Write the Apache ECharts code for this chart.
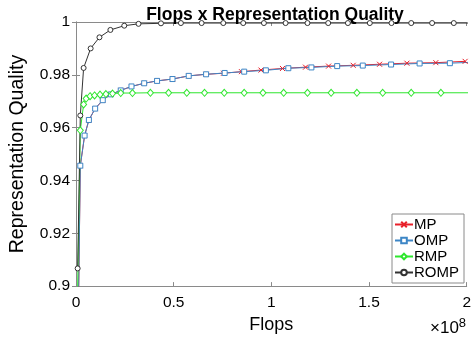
<!DOCTYPE html>
<html>
<head>
<meta charset="utf-8">
<script src="https://cdn.jsdelivr.net/npm/echarts@6/dist/echarts.min.js"></script>
<style>html,body{margin:0;padding:0;background:#fff;}#c{width:474px;height:339px;}</style>
</head>
<body>
<div id="c"></div>
<script>
// x values in units of 1e8 flops
const mpX = [0.005, 0.022, 0.044, 0.066, 0.098, 0.137, 0.179, 0.229, 0.284, 0.349, 0.415, 0.494, 0.577, 0.666, 0.755, 0.847, 0.947, 1.057, 1.175, 1.293, 1.419, 1.554, 1.694, 1.842, 1.992];
const mpY = [0.85, 0.9456, 0.957, 0.9629, 0.9672, 0.9704, 0.9726, 0.9741, 0.9756, 0.9768, 0.9777, 0.9784, 0.9796, 0.9802, 0.9806, 0.9812, 0.9818, 0.9824, 0.9829, 0.9833, 0.9836, 0.984, 0.9844, 0.9846, 0.9851];
const ompX = [0.005, 0.022, 0.044, 0.066, 0.098, 0.137, 0.179, 0.229, 0.284, 0.349, 0.415, 0.494, 0.577, 0.666, 0.761, 0.861, 0.972, 1.087, 1.205, 1.337, 1.468, 1.613, 1.759, 1.914, 2.07];
const ompY = [0.85, 0.9456, 0.957, 0.9629, 0.9672, 0.9704, 0.9726, 0.9741, 0.9756, 0.9768, 0.9777, 0.9784, 0.9796, 0.9802, 0.9807, 0.9812, 0.9817, 0.9825, 0.9828, 0.9833, 0.9835, 0.9839, 0.9843, 0.9844, 0.9849];
const rmpX = [0.004, 0.022, 0.039, 0.052, 0.072, 0.095, 0.123, 0.153, 0.187, 0.229, 0.289, 0.381, 0.474, 0.567, 0.658, 0.759, 0.861, 0.957, 1.063, 1.185, 1.306, 1.438, 1.570, 1.716, 1.868, 2.03];
const rmpY = [0.88, 0.959, 0.9688, 0.971, 0.9719, 0.9722, 0.9725, 0.9727, 0.9729, 0.9731, 0.9731, 0.9732, 0.9732, 0.9732, 0.9732, 0.9732, 0.9732, 0.9732, 0.9732, 0.9732, 0.9732, 0.9732, 0.9732, 0.9732, 0.9732, 0.9732];
const rompX = [0.0085, 0.022, 0.039, 0.075, 0.12, 0.176, 0.247, 0.320, 0.435, 0.537, 0.643, 0.754, 0.856, 0.962, 1.073, 1.185, 1.291, 1.392, 1.504, 1.615, 1.716, 1.823, 1.934, 2.04];
const rompY = [0.9067, 0.9646, 0.9826, 0.9900, 0.9942, 0.9970, 0.9986, 0.9993, 0.9995, 0.9996, 0.9996, 0.9996, 0.9996, 0.9996, 0.9996, 0.9996, 0.9996, 0.9996, 0.9996, 0.9996, 0.9996, 0.9996, 0.9996, 0.9996];
const xTicks = [0, 0.5, 1, 1.5, 2];
const yTicks = [0.9, 0.92, 0.94, 0.96, 0.98, 1];

const zip = (xs, ys) => xs.map((x, i) => [x, ys[i]]);
const FONT = 'Liberation Sans, Arial, Helvetica, sans-serif';
const AX = '#8a8a8a';
const crossPath = 'path://M0,0L10,10M10,0L0,10';

const chart = echarts.init(document.getElementById('c'), null, {renderer: 'canvas'});

function mkSeries(name, data, color, symbol, size, lineColor) {
  return {
    name, type: 'line', data, clip: true,
    symbol, symbolSize: size, showAllSymbol: true,
    lineStyle: {color: lineColor || color, width: 1},
    itemStyle: {color: symbol === crossPath ? color : '#fff', borderColor: color, borderWidth: 1},
    emphasis: {disabled: true}, animation: false
  };
}

chart.setOption({
  animation: false,
  backgroundColor: '#fff',
  title: {
    text: 'Flops x Representation Quality', left: 270, textAlign: 'center', top: 1,
    textStyle: {fontFamily: FONT, fontSize: 17.5, fontWeight: 'bold', color: '#000'}
  },
  grid: {left: 73, right: 6, top: 22, bottom: 48, containLabel: false},
  legend: {
    orient: 'vertical', left: 392, top: 214, itemWidth: 18, itemHeight: 7, itemGap: 1,
    padding: [3, 5, 3, 2],
    backgroundColor: '#fff', borderColor: AX, borderWidth: 1,
    textStyle: {fontFamily: FONT, fontSize: 15, color: '#000', lineHeight: 15, padding: [0, 0, 0, -4]},
    data: ['MP', 'OMP', 'RMP', 'ROMP']
  },
  xAxis: [{
    type: 'value', min: 0, max: 2, interval: 0.5,
    name: 'Flops', nameLocation: 'middle', nameGap: 26,
    nameTextStyle: {fontFamily: FONT, fontSize: 18, color: '#000'},
    axisLine: {show: true, lineStyle: {color: AX}},
    axisTick: {show: true, inside: true, length: 4, lineStyle: {color: AX}},
    axisLabel: {fontFamily: FONT, fontSize: 15.5, color: '#000', margin: 9,
      formatter: v => xTicks.includes(v) ? String(v) : ''},
    splitLine: {show: false}
  }, {
    type: 'value', min: 0, max: 2, interval: 0.5, position: 'top',
    axisLine: {show: true, lineStyle: {color: AX}},
    axisTick: {show: true, inside: true, length: 4, lineStyle: {color: AX}},
    axisLabel: {show: false}, splitLine: {show: false}
  }],
  yAxis: [{
    type: 'value', min: 0.9, max: 1, interval: 0.02,
    name: 'Representation Quality', nameLocation: 'middle', nameGap: 48,
    nameTextStyle: {fontFamily: FONT, fontSize: 19.5, color: '#000'},
    axisLine: {show: true, lineStyle: {color: AX}},
    axisTick: {show: true, inside: true, length: 4, lineStyle: {color: AX}},
    axisLabel: {fontFamily: FONT, fontSize: 15.5, color: '#000', margin: 6,
      formatter: v => { const t = yTicks.find(k => Math.abs(k - v) < 1e-9); return t === undefined ? '' : String(t); }},
    splitLine: {show: false}
  }, {
    type: 'value', min: 0.9, max: 1, interval: 0.02, position: 'right',
    axisLine: {show: true, lineStyle: {color: AX}},
    axisTick: {show: true, inside: true, length: 4, lineStyle: {color: AX}},
    axisLabel: {show: false}, splitLine: {show: false}
  }],
  graphic: [{
    type: 'text', left: 430, top: 317, silent: true,
    style: {
      text: '×10{s|8}', fontFamily: FONT, fontSize: 17, fill: '#000',
      rich: {s: {fontFamily: FONT, fontSize: 13, verticalAlign: 'top', padding: [0, 0, 10, 0]}}
    }
  }],
  series: [
    mkSeries('MP', zip(mpX, mpY), '#e8202a', crossPath, 5),
    mkSeries('OMP', zip(ompX, ompY), '#3d86c6', 'rect', 5),
    mkSeries('RMP', zip(rmpX, rmpY), '#2ee62e', 'diamond', [6, 7]),
    mkSeries('ROMP', zip(rompX, rompY), '#333333', 'circle', 5)
  ]
});
</script>
</body>
</html>
